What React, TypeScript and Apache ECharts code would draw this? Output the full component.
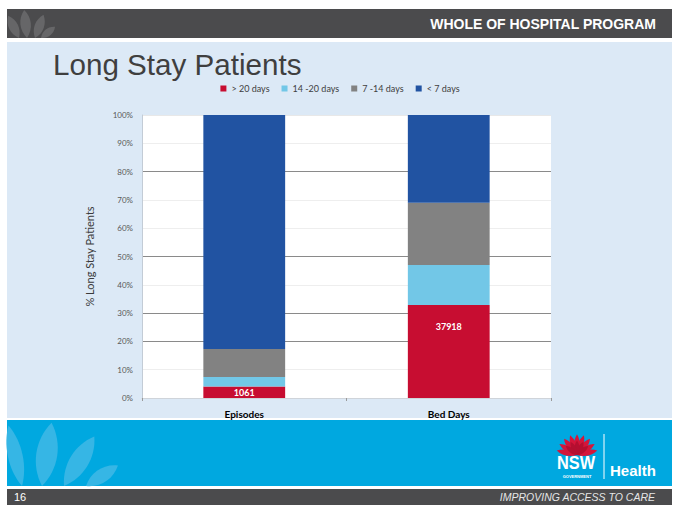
import React, { useEffect, useRef } from "react";
import * as echarts from "echarts";

// Stay-length bands, stacked bottom to top
const categories = ["Episodes", "Bed Days"];
const stayBands = ["> 20 days", "14 -20 days", "7 -14 days", "< 7 days"];

// Counts per band for each category
const over20Days = [1061, 37918];
const days14to20 = [855, 16250];
const days7to14 = [2564, 25355];
const under7Days = [21420, 35730];

const percentTicks = [0, 10, 20, 30, 40, 50, 60, 70, 80, 90, 100];

const bandColors = ["#c70d31", "#72c7e7", "#828282", "#2153a2"];

const LATO = "Lato, 'Open Sans', sans-serif";
const ARIAL = "'Liberation Sans', Arial, sans-serif";

// lens-shaped petal, base at (0,0), tip at (0,-40)
const PETAL = "M0 0 C-7 -12 -7 -28 0 -40 C7 -28 7 -12 0 0 Z";
echarts.graphic.registerShape("petal", echarts.graphic.extendPath(PETAL, {}));

function petal(x: number, y: number, rot: number, sx: number, sy: number, fill: string, z = 1) {
  return { type: "petal", x, y, rotation: rot, scaleX: sx, scaleY: sy, z, silent: true, style: { fill, opacity: 1 } };
}

function label(x: number, y: number, text: string, fill: string, font: string, align: string, extra: any = {}) {
  return { type: "text", z: 10, silent: true, x, y, ...extra, style: { text, fill, font, align, verticalAlign: "middle" } };
}

function buildGraphics() {
  const els: any[] = [];
  // slide panels
  els.push({ type: "rect", z: -20, silent: true, shape: { x: 7, y: 9, width: 665, height: 29 }, style: { fill: "#4b4b4d" } });
  els.push({ type: "rect", z: -20, silent: true, shape: { x: 7, y: 42, width: 665, height: 376 }, style: { fill: "#dce9f6" } });
  els.push({ type: "rect", z: -20, silent: true, shape: { x: 7, y: 420, width: 665, height: 66 }, style: { fill: "#00a8e0" } });
  els.push({ type: "rect", z: -20, silent: true, shape: { x: 7, y: 489, width: 665, height: 16 }, style: { fill: "#4b4b4d" } });

  // faint flower in the header corner
  const hdr = "#666668";
  els.push(petal(19, 38, 0.45, 0.9, 0.62, hdr, -10));
  els.push(petal(27, 38, 0.1, 1.0, 0.7, hdr, -10));
  els.push(petal(35, 38, -0.35, 0.9, 0.62, hdr, -10));
  els.push(petal(41, 38, -0.9, 0.7, 0.45, hdr, -10));

  // faint flower in the footer corner
  const ftr = "#36b6e5";
  els.push(petal(22, 486, 0.22, 1.4, 1.55, ftr, -10));
  els.push(petal(42, 486, -0.15, 2.0, 1.6, ftr, -10));
  els.push(petal(64, 486, -0.55, 1.8, 1.45, ftr, -10));
  els.push(petal(86, 486, -1.0, 1.3, 0.95, ftr, -10));

  // header / footer captions
  els.push(label(656, 24, "WHOLE OF HOSPITAL PROGRAM", "#ffffff", `bold 14px ${ARIAL}`, "right"));
  els.push(label(53, 64, "Long Stay Patients", "#3f3f3f", `29.6px ${ARIAL}`, "left"));
  els.push(label(14, 497, "16", "#ffffff", `11px ${ARIAL}`, "left"));
  els.push(label(655, 497, "IMPROVING ACCESS TO CARE", "#e6e6e6", `italic 10.5px ${ARIAL}`, "right"));

  // NSW Health logo: waratah
  const red = "#d4163b";
  for (let i = 0; i < 9; i++) {
    const a = -1.35 + (i * 2.7) / 8;
    els.push(petal(577, 455, a, 0.55, 0.52, red, 5));
  }
  for (let i = 0; i < 5; i++) {
    const a = -0.9 + (i * 1.8) / 4;
    els.push(petal(577, 455, a, 0.45, 0.36, "#b50f30", 6));
  }
  els.push(label(557, 463, "NSW", "#ffffff", `bold 19px ${ARIAL}`, "left", { scaleX: 0.86 }));
  els.push(label(577, 476, "GOVERNMENT", "#ffffff", `bold 4px ${ARIAL}`, "center"));
  els.push({ type: "line", z: 10, silent: true, shape: { x1: 604, y1: 434, x2: 604, y2: 479 }, style: { stroke: "#ffffff", lineWidth: 1 } });
  els.push(label(610, 470.5, "Health", "#ffffff", `bold 15px ${ARIAL}`, "left"));
  return els;
}

export default function App() {
  const ref = useRef<HTMLDivElement>(null);

  useEffect(() => {
    if (!ref.current) return;
    const chart = echarts.init(ref.current, undefined, { renderer: "svg" });

    const counts = [over20Days, days14to20, days7to14, under7Days];
    const totals = categories.map((_, c) => counts.reduce((s, band) => s + band[c], 0));
    const share = (band: number[]) => band.map((v, c) => (v / totals[c]) * 100);

    // gridline tones per tick (0% .. 100%)
    const gridTones = ["#d0d0d0", "#eeeeee", "#8a8a8a", "#8a8a8a", "#eeeeee", "#8a8a8a", "#eeeeee", "#eeeeee", "#8a8a8a", "#eeeeee", "#e8e8e8"];

    const series = counts.map((band, i) => {
      const pct = share(band);
      const data = pct.map((v, c) =>
        i === 0 && c === 1 ? { value: v, label: { position: "insideTop", distance: 17 } } : { value: v }
      );
      return {
        name: stayBands[i],
        type: "bar",
        stack: "total",
        barCategoryGap: "60%",
        itemStyle: { color: bandColors[i] },
        data,
        label:
          i === 0
            ? {
                show: true,
                position: "inside",
                color: "#ffffff",
                fontFamily: LATO,
                fontSize: 9,
                fontWeight: "bold",
                formatter: (p: any) => String(band[p.dataIndex]),
              }
            : { show: false },
      };
    });

    chart.setOption({
      animation: false,
      backgroundColor: "#ffffff",
      graphic: { elements: buildGraphics() },
      legend: {
        data: stayBands,
        left: "center",
        top: 79,
        icon: "rect",
        itemWidth: 6,
        itemHeight: 6,
        itemGap: 12,
        textStyle: { fontFamily: LATO, fontSize: 9, color: "#404040" },
      },
      grid: {
        left: 142,
        top: 115,
        width: 409,
        height: 283,
        show: true,
        backgroundColor: "#ffffff",
        borderWidth: 0,
      },
      xAxis: {
        type: "category",
        data: categories,
        axisLine: { show: true, lineStyle: { color: "#cfd4da", width: 1 } },
        axisTick: { show: true, length: 3, lineStyle: { color: "#9a9a9a" } },
        axisLabel: { color: "#000000", fontFamily: LATO, fontSize: 10, fontWeight: "bold", margin: 11 },
      },
      yAxis: {
        type: "value",
        min: percentTicks[0],
        max: percentTicks[percentTicks.length - 1],
        interval: 10,
        name: "% Long Stay Patients",
        nameLocation: "middle",
        nameGap: 47,
        nameTextStyle: { fontFamily: LATO, fontSize: 11, color: "#3a3a3a" },
        axisLine: { show: true, lineStyle: { color: "#c3ccd6" } },
        axisTick: { show: false },
        axisLabel: { formatter: "{value}%", color: "#595959", fontFamily: LATO, fontSize: 8, margin: 9 },
        splitLine: { show: true, lineStyle: { color: gridTones, width: 1 } },
      },
      series,
    });

    return () => chart.dispose();
  }, []);

  return <div ref={ref} style={{ position: "absolute", left: 0, top: 0, width: 680, height: 511 }} />;
}
